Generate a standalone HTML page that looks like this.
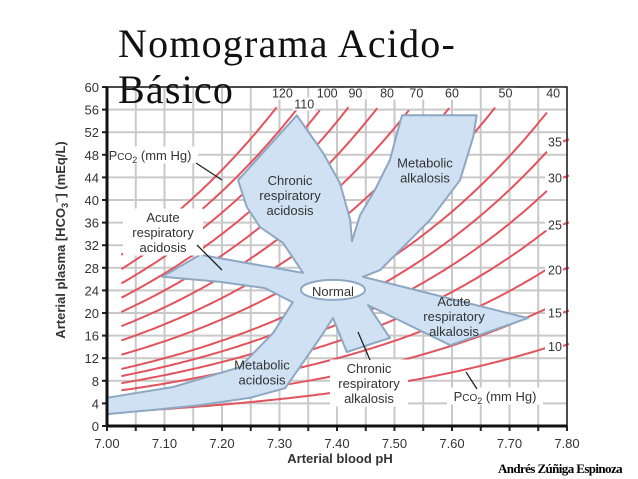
<!DOCTYPE html>
<html><head><meta charset="utf-8">
<style>
html,body{margin:0;padding:0;background:#fff;}
svg{display:block;}
.t{font-family:"Liberation Sans",sans-serif;fill:#333;}
</style></head>
<body>
<svg id="c" width="638" height="479" viewBox="0 0 638 479" xmlns="http://www.w3.org/2000/svg">
<g id="grid"></g>
<g id="curves"></g>
<g id="region"></g>
<g id="ann"></g>
<g id="axes"></g>
<text x="118" y="57" font-family="Liberation Serif,serif" font-size="40" letter-spacing="1.2" fill="#111">Nomograma Acido-</text>
<text x="118" y="103" font-family="Liberation Serif,serif" font-size="40" letter-spacing="1.2" fill="#111">Básico</text>
<text x="560" y="473" text-anchor="middle" font-family="Liberation Serif,serif" font-weight="bold" font-size="13" fill="#000" letter-spacing="-0.6">Andrés Zúñiga Espinoza</text>
</svg>
<script>
const phTicks = [7.00,7.10,7.20,7.30,7.40,7.50,7.60,7.70,7.80];
const phTickLabels = ["7.00","7.10","7.20","7.30","7.40","7.50","7.60","7.70","7.80"];
const hco3Ticks = [0,4,8,12,16,20,24,28,32,36,40,44,48,52,56,60];
const pco2Values = [10,15,20,25,30,35,40,50,60,70,80,90,100,110,120];
const topLabels = ["120","110","100","90","80","70","60","50","40"];
const topLabelPh = [7.305,7.343,7.383,7.432,7.487,7.538,7.6,7.693,7.776];
const topLabelH = [58.3,56.4,58.3,58.3,58.3,58.3,58.3,58.3,58.3];
const rightLabels = ["35","30","25","20","15","10"];
const rightLabelH = [50.2,43.8,35.5,27.5,19.9,14.0];
const regionPh = [7.000,7.115,7.231,7.289,7.323,7.275,7.197,7.096,7.162,7.341,7.306,7.266,7.243,7.228,7.330,7.376,7.405,7.423,7.426,7.440,7.466,7.492,7.506,7.513,7.643,7.637,7.614,7.562,7.475,7.445,7.732,7.597,7.454,7.492,7.417,7.393,7.374,7.344,7.310,7.249,7.162,7.075,7.000];
const regionH = [5.0,6.9,10.4,16.5,21.9,24.4,25.5,26.4,30.3,27.1,32.4,35.2,38.8,43.5,55.0,48.3,43.0,36.5,32.7,37.3,41.8,47.1,52.4,55.0,55.0,51.2,43.5,36.5,27.6,26.4,19.1,14.3,21.4,15.6,13.1,19.1,16.1,11.7,6.7,5.0,3.7,2.8,2.1];
const normalPh = 7.393, normalH = 24.1;

const X = ph => 107 + (ph - 7.0) / 0.8 * 460;
const Y = h => 426 - h * 5.65;
const NS = "http://www.w3.org/2000/svg";
function mk(tag, parent, attrs){const e=document.createElementNS(NS,tag);for(const k in attrs)e.setAttribute(k,attrs[k]);parent.appendChild(e);return e;}
const grid=document.getElementById('grid'), curves=document.getElementById('curves'), region=document.getElementById('region'), ann=document.getElementById('ann'), axes=document.getElementById('axes');

for(let i=0;i<=16;i++){const ph=7+i*0.05;
 const l=mk('line',grid,{x1:X(ph),x2:X(ph),y1:Y(0),y2:Y(60),stroke:'#c9c9c9','stroke-width':2});
 
 
 const tk=mk('line',axes,{x1:X(ph),x2:X(ph),y1:Y(0),y2:Y(0)+5,stroke:'#222','stroke-width':2});
 
 }
hco3Ticks.forEach(h=>{
 const l=mk('line',grid,{x1:X(7)-5,x2:X(7.8),y1:Y(h),y2:Y(h),stroke:'#c9c9c9','stroke-width':2});
 
 
 const tk=mk('line',axes,{x1:X(7)-5,x2:X(7),y1:Y(h),y2:Y(h),stroke:'#222','stroke-width':2});
 
 
 const t=mk('text',axes,{x:X(7)-8,y:Y(h)+5,'text-anchor':'end','font-size':13,class:'t'});t.textContent=h;
 
 });
phTicks.forEach((ph,i)=>{const t=mk('text',axes,{x:X(ph),y:Y(0)+22,'text-anchor':'middle','font-size':13,class:'t'});t.textContent=phTickLabels[i];
 
 });

pco2Values.forEach(p=>{let pts=[];
 for(let ph=7.025;ph<=7.768;ph+=0.005){const h=0.03*p*Math.pow(10,ph-6.1);if(h>56.5)break;pts.push(X(ph).toFixed(1)+','+Y(h).toFixed(1));}
 if(pts.length<2)return;
 const pl=mk('polyline',curves,{points:pts.join(' '),fill:'none',stroke:'#e2535d','stroke-width':2});
 
 });

const rp=mk('polygon',region,{points:regionPh.map((ph,i)=>X(ph).toFixed(1)+','+Y(regionH[i]).toFixed(1)).join(' '),fill:'#cfe1f2',stroke:'#8ea8c3','stroke-width':2,'stroke-linejoin':'round'});


const ne=mk('ellipse',region,{cx:X(normalPh),cy:Y(normalH),rx:32,ry:10,fill:'#fff',stroke:'#8ea8c3','stroke-width':2});



function label(lines,cx,cy,name,bgw){
 if(bgw){const h=lines.length*15+2;
  const r=mk('rect',ann,{x:cx-bgw/2,y:cy-h/2,width:bgw,height:h,fill:'#fff'});
  
  }
 const t=mk('text',ann,{'text-anchor':'middle','font-size':13,class:'t'});
 
 
 lines.forEach((s,i)=>{const ts=mk('tspan',t,{x:cx,y:cy-(lines.length-1)*7.5+i*15+5});ts.innerHTML=s;});}
function leader(x1,y1,x2,y2){const l=mk('line',ann,{x1,y1,x2,y2,stroke:'#222','stroke-width':1.3});
 
 }
const pco2Txt='P<tspan font-size="10">CO</tspan><tspan font-size="9" dy="3">2</tspan><tspan dy="-3"> (mm Hg)</tspan>';
label([pco2Txt],150,155,'pco2-label-top',96);
leader(196,163,222,180);
label(['Acute','respiratory','acidosis'],163,232,'acute-respiratory-acidosis-label',80);
leader(197,245,222,270);
label(['Chronic','respiratory','acidosis'],290,195,'chronic-respiratory-acidosis-label',0);
label(['Metabolic','alkalosis'],425,170,'metabolic-alkalosis-label',0);
label(['Normal'],333,291,'normal-label',0);
label(['Acute','respiratory','alkalosis'],454,316,'acute-respiratory-alkalosis-label',0);
label(['Metabolic','acidosis'],262,372,'metabolic-acidosis-label',0);
label(['Chronic','respiratory','alkalosis'],369,383,'chronic-respiratory-alkalosis-label',78);
leader(358,332,370,360);
label([pco2Txt],495,396,'pco2-label-bottom',96);
leader(466,372,477,389);
topLabels.forEach((s,i)=>{const x=X(topLabelPh[i]),y=Y(topLabelH[i]);
 const r=mk('rect',ann,{x:x-11,y:y-10,width:22,height:13,fill:'#fff'});
 
 
 const t=mk('text',ann,{x,y:y+1,'text-anchor':'middle','font-size':12.5,class:'t'});t.textContent=s;
 
 });
rightLabels.forEach((s,i)=>{const y=Y(rightLabelH[i]);
 const r=mk('rect',ann,{x:545,y:y-9,width:20,height:14,fill:'#fff'});
 
 
 const t=mk('text',ann,{x:555,y:y+4,'text-anchor':'middle','font-size':12.5,class:'t'});t.textContent=s;
 
 
 const tk=mk('line',ann,{x1:563,x2:569,y1:y-1,y2:y-3,stroke:'#e2535d','stroke-width':2});
 
 });

const fr=mk('rect',axes,{x:X(7),y:Y(60),width:X(7.8)-X(7),height:Y(0)-Y(60),fill:'none',stroke:'#222','stroke-width':1.5});


const bx=mk('line',axes,{x1:X(7),x2:X(7.8),y1:Y(0),y2:Y(0),stroke:'#111','stroke-width':3});


const ly=mk('line',axes,{x1:X(7),x2:X(7),y1:Y(0),y2:Y(60),stroke:'#111','stroke-width':3});


const xt=mk('text',axes,{x:340,y:463,'text-anchor':'middle','font-size':13,'font-weight':'bold',class:'t'});xt.textContent='Arterial blood pH';


const yt=mk('text',axes,{x:0,y:0,'text-anchor':'middle','font-size':13,'font-weight':'bold',class:'t',transform:'translate(65,240) rotate(-90)'});
yt.innerHTML='Arterial plasma [HCO<tspan font-size="9" dy="3">3</tspan><tspan font-size="9" dy="-8">−</tspan><tspan dy="5">] (mEq/L)</tspan>';


</script>
</body></html>
